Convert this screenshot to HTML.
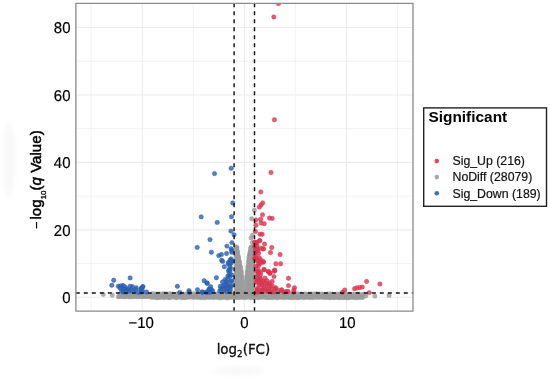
<!DOCTYPE html>
<html><head><meta charset="utf-8"><title>Volcano plot</title>
<style>html,body{margin:0;padding:0;background:#fff;}svg{display:block;}</style>
</head><body>
<svg width="550" height="379" viewBox="0 0 550 379">
<rect width="550" height="379" fill="#fff"/>
<defs><filter id="sm" x="-50%" y="-50%" width="200%" height="200%"><feGaussianBlur stdDeviation="2.5"/></filter></defs>
<ellipse cx="9" cy="160" rx="6" ry="40" fill="#f8f8f8" filter="url(#sm)"/>
<ellipse cx="238" cy="371" rx="26" ry="4" fill="#f7f7f7" filter="url(#sm)"/>
<defs><clipPath id="pc"><rect x="75.8" y="3.2" width="337.4" height="308.0"/></clipPath></defs>
<g stroke="#ebebeb" stroke-width="1"><line x1="91.15" y1="3.2" x2="91.15" y2="311.2" stroke-width="0.7"/><line x1="142.20" y1="3.2" x2="142.20" y2="311.2" stroke-width="1.1"/><line x1="193.25" y1="3.2" x2="193.25" y2="311.2" stroke-width="0.7"/><line x1="244.30" y1="3.2" x2="244.30" y2="311.2" stroke-width="1.1"/><line x1="295.35" y1="3.2" x2="295.35" y2="311.2" stroke-width="0.7"/><line x1="346.40" y1="3.2" x2="346.40" y2="311.2" stroke-width="1.1"/><line x1="397.45" y1="3.2" x2="397.45" y2="311.2" stroke-width="0.7"/><line x1="75.8" y1="297.30" x2="413.2" y2="297.30" stroke-width="1.1"/><line x1="75.8" y1="263.57" x2="413.2" y2="263.57" stroke-width="0.7"/><line x1="75.8" y1="229.85" x2="413.2" y2="229.85" stroke-width="1.1"/><line x1="75.8" y1="196.12" x2="413.2" y2="196.12" stroke-width="0.7"/><line x1="75.8" y1="162.40" x2="413.2" y2="162.40" stroke-width="1.1"/><line x1="75.8" y1="128.68" x2="413.2" y2="128.68" stroke-width="0.7"/><line x1="75.8" y1="94.95" x2="413.2" y2="94.95" stroke-width="1.1"/><line x1="75.8" y1="61.22" x2="413.2" y2="61.22" stroke-width="0.7"/><line x1="75.8" y1="27.50" x2="413.2" y2="27.50" stroke-width="1.1"/></g>
<g clip-path="url(#pc)">
<g fill="#9c9c9c" stroke="#9c9c9c" stroke-width="0.6" stroke-linejoin="round">
<polygon points="117.0,295.0 150.0,294.0 330.0,294.0 360.0,294.6 364.0,296.0 364.0,299.0 117.0,298.2"/>
<polygon points="234.2,246.0 236.0,244.5 238.5,246.0 239.0,250.0 239.8,255.0 241.3,262.5 242.8,270.0 243.6,277.6 244.2,284.0 244.2,295.0 234.2,295.0"/>
<polygon points="249.0,246.0 251.5,244.5 254.5,245.0 254.5,295.0 244.2,295.0 244.2,284.0 245.0,277.6 245.8,270.0 246.6,262.5 247.3,255.0 248.5,250.0"/>
</g>
<g fill="#9c9c9c" fill-opacity="0.8" stroke="#9c9c9c" stroke-opacity="0.8" stroke-width="0.6"><circle cx="254.4" cy="210.3" r="2.2"/>
<circle cx="251.7" cy="218.7" r="2.2"/>
<circle cx="252.4" cy="235.2" r="2.2"/>
<circle cx="251.1" cy="237.9" r="2.2"/>
<circle cx="103.3" cy="294.4" r="2.2"/>
<circle cx="112.2" cy="295.2" r="2.2"/>
<circle cx="365.8" cy="296.1" r="2.2"/>
<circle cx="374.9" cy="296.1" r="2.2"/>
<circle cx="389.1" cy="295.4" r="2.2"/>
<circle cx="236.8" cy="247.5" r="2.2"/>
<circle cx="237.6" cy="252.0" r="2.2"/>
<circle cx="238.5" cy="257.0" r="2.2"/>
<circle cx="239.5" cy="262.0" r="2.2"/>
<circle cx="240.5" cy="267.0" r="2.2"/>
<circle cx="241.3" cy="272.0" r="2.2"/>
<circle cx="241.8" cy="277.0" r="2.2"/>
<circle cx="242.2" cy="281.0" r="2.2"/>
<circle cx="251.5" cy="247.5" r="2.2"/>
<circle cx="252.5" cy="242.5" r="2.2"/>
<circle cx="250.6" cy="252.0" r="2.2"/>
<circle cx="249.6" cy="257.0" r="2.2"/>
<circle cx="248.8" cy="262.0" r="2.2"/>
<circle cx="248.0" cy="267.0" r="2.2"/>
<circle cx="247.4" cy="272.0" r="2.2"/>
<circle cx="246.9" cy="277.0" r="2.2"/>
<circle cx="246.4" cy="281.0" r="2.2"/>
<circle cx="118.5" cy="296.7" r="2.2"/>
<circle cx="119.7" cy="294.8" r="2.2"/>
<circle cx="120.2" cy="296.5" r="2.2"/>
<circle cx="122.2" cy="295.1" r="2.2"/>
<circle cx="122.6" cy="296.5" r="2.2"/>
<circle cx="123.7" cy="294.6" r="2.2"/>
<circle cx="124.7" cy="296.8" r="2.2"/>
<circle cx="126.1" cy="295.3" r="2.2"/>
<circle cx="127.3" cy="296.4" r="2.2"/>
<circle cx="128.8" cy="294.8" r="2.2"/>
<circle cx="129.8" cy="296.9" r="2.2"/>
<circle cx="131.7" cy="295.2" r="2.2"/>
<circle cx="132.6" cy="296.8" r="2.2"/>
<circle cx="134.1" cy="295.0" r="2.2"/>
<circle cx="135.1" cy="296.2" r="2.2"/>
<circle cx="136.3" cy="295.0" r="2.2"/>
<circle cx="137.5" cy="296.7" r="2.2"/>
<circle cx="138.1" cy="294.6" r="2.2"/>
<circle cx="140.1" cy="296.3" r="2.2"/>
<circle cx="140.8" cy="294.9" r="2.2"/>
<circle cx="141.8" cy="296.7" r="2.2"/>
<circle cx="143.8" cy="294.8" r="2.2"/>
<circle cx="144.6" cy="296.4" r="2.2"/>
<circle cx="145.7" cy="294.9" r="2.2"/>
<circle cx="146.4" cy="296.3" r="2.2"/>
<circle cx="147.6" cy="295.3" r="2.2"/>
<circle cx="149.2" cy="296.4" r="2.2"/>
<circle cx="150.9" cy="295.4" r="2.2"/>
<circle cx="151.5" cy="297.2" r="2.2"/>
<circle cx="152.4" cy="293.8" r="2.2"/>
<circle cx="153.8" cy="297.2" r="2.2"/>
<circle cx="154.9" cy="293.9" r="2.2"/>
<circle cx="156.5" cy="297.7" r="2.2"/>
<circle cx="157.9" cy="294.0" r="2.2"/>
<circle cx="158.7" cy="297.5" r="2.2"/>
<circle cx="159.9" cy="294.0" r="2.2"/>
<circle cx="160.7" cy="297.3" r="2.2"/>
<circle cx="163.0" cy="293.8" r="2.2"/>
<circle cx="163.6" cy="297.5" r="2.2"/>
<circle cx="165.2" cy="293.9" r="2.2"/>
<circle cx="165.7" cy="297.3" r="2.2"/>
<circle cx="167.1" cy="294.1" r="2.2"/>
<circle cx="168.9" cy="297.7" r="2.2"/>
<circle cx="170.0" cy="293.7" r="2.2"/>
<circle cx="170.2" cy="297.6" r="2.2"/>
<circle cx="172.5" cy="294.1" r="2.2"/>
<circle cx="173.3" cy="297.1" r="2.2"/>
<circle cx="174.3" cy="294.4" r="2.2"/>
<circle cx="176.0" cy="297.7" r="2.2"/>
<circle cx="177.4" cy="293.9" r="2.2"/>
<circle cx="177.5" cy="297.2" r="2.2"/>
<circle cx="179.2" cy="294.2" r="2.2"/>
<circle cx="180.9" cy="297.6" r="2.2"/>
<circle cx="181.8" cy="294.3" r="2.2"/>
<circle cx="182.7" cy="297.5" r="2.2"/>
<circle cx="183.4" cy="294.3" r="2.2"/>
<circle cx="184.9" cy="297.7" r="2.2"/>
<circle cx="186.6" cy="293.9" r="2.2"/>
<circle cx="187.2" cy="297.3" r="2.2"/>
<circle cx="189.0" cy="294.3" r="2.2"/>
<circle cx="189.5" cy="297.1" r="2.2"/>
<circle cx="191.2" cy="294.2" r="2.2"/>
<circle cx="192.3" cy="297.3" r="2.2"/>
<circle cx="193.7" cy="293.7" r="2.2"/>
<circle cx="194.6" cy="297.4" r="2.2"/>
<circle cx="196.6" cy="294.2" r="2.2"/>
<circle cx="197.7" cy="297.4" r="2.2"/>
<circle cx="198.1" cy="293.9" r="2.2"/>
<circle cx="200.2" cy="297.6" r="2.2"/>
<circle cx="200.6" cy="293.7" r="2.2"/>
<circle cx="202.0" cy="297.6" r="2.2"/>
<circle cx="203.1" cy="293.9" r="2.2"/>
<circle cx="204.6" cy="297.7" r="2.2"/>
<circle cx="205.3" cy="293.7" r="2.2"/>
<circle cx="206.6" cy="297.4" r="2.2"/>
<circle cx="208.2" cy="293.9" r="2.2"/>
<circle cx="209.6" cy="297.6" r="2.2"/>
<circle cx="210.4" cy="293.9" r="2.2"/>
<circle cx="212.2" cy="297.3" r="2.2"/>
<circle cx="213.2" cy="293.9" r="2.2"/>
<circle cx="213.7" cy="297.6" r="2.2"/>
<circle cx="215.0" cy="294.5" r="2.2"/>
<circle cx="216.4" cy="297.2" r="2.2"/>
<circle cx="217.3" cy="294.0" r="2.2"/>
<circle cx="219.0" cy="297.8" r="2.2"/>
<circle cx="219.6" cy="294.0" r="2.2"/>
<circle cx="220.9" cy="297.8" r="2.2"/>
<circle cx="222.0" cy="293.7" r="2.2"/>
<circle cx="223.1" cy="297.4" r="2.2"/>
<circle cx="225.3" cy="294.4" r="2.2"/>
<circle cx="226.3" cy="297.8" r="2.2"/>
<circle cx="227.7" cy="294.0" r="2.2"/>
<circle cx="228.0" cy="297.8" r="2.2"/>
<circle cx="229.9" cy="293.7" r="2.2"/>
<circle cx="231.0" cy="297.4" r="2.2"/>
<circle cx="231.8" cy="294.0" r="2.2"/>
<circle cx="232.8" cy="297.1" r="2.2"/>
<circle cx="234.1" cy="294.0" r="2.2"/>
<circle cx="236.1" cy="297.2" r="2.2"/>
<circle cx="237.4" cy="293.9" r="2.2"/>
<circle cx="237.8" cy="297.7" r="2.2"/>
<circle cx="239.6" cy="294.0" r="2.2"/>
<circle cx="239.9" cy="297.4" r="2.2"/>
<circle cx="241.4" cy="294.4" r="2.2"/>
<circle cx="242.4" cy="297.4" r="2.2"/>
<circle cx="244.5" cy="293.7" r="2.2"/>
<circle cx="245.1" cy="297.7" r="2.2"/>
<circle cx="246.7" cy="293.7" r="2.2"/>
<circle cx="247.0" cy="297.1" r="2.2"/>
<circle cx="249.3" cy="293.9" r="2.2"/>
<circle cx="250.3" cy="297.7" r="2.2"/>
<circle cx="251.0" cy="293.9" r="2.2"/>
<circle cx="252.9" cy="297.5" r="2.2"/>
<circle cx="253.3" cy="294.3" r="2.2"/>
<circle cx="254.6" cy="297.3" r="2.2"/>
<circle cx="255.4" cy="294.3" r="2.2"/>
<circle cx="257.7" cy="297.5" r="2.2"/>
<circle cx="258.9" cy="293.7" r="2.2"/>
<circle cx="259.3" cy="297.4" r="2.2"/>
<circle cx="261.3" cy="294.5" r="2.2"/>
<circle cx="261.9" cy="297.3" r="2.2"/>
<circle cx="263.1" cy="294.1" r="2.2"/>
<circle cx="264.9" cy="297.2" r="2.2"/>
<circle cx="266.0" cy="294.3" r="2.2"/>
<circle cx="267.2" cy="297.6" r="2.2"/>
<circle cx="268.1" cy="294.0" r="2.2"/>
<circle cx="269.0" cy="297.4" r="2.2"/>
<circle cx="270.7" cy="293.8" r="2.2"/>
<circle cx="271.2" cy="297.6" r="2.2"/>
<circle cx="272.5" cy="293.8" r="2.2"/>
<circle cx="273.4" cy="297.5" r="2.2"/>
<circle cx="275.0" cy="294.5" r="2.2"/>
<circle cx="276.9" cy="297.8" r="2.2"/>
<circle cx="277.3" cy="293.8" r="2.2"/>
<circle cx="278.3" cy="297.4" r="2.2"/>
<circle cx="280.3" cy="294.1" r="2.2"/>
<circle cx="280.9" cy="297.4" r="2.2"/>
<circle cx="282.5" cy="294.2" r="2.2"/>
<circle cx="283.9" cy="297.7" r="2.2"/>
<circle cx="285.0" cy="293.8" r="2.2"/>
<circle cx="286.4" cy="297.3" r="2.2"/>
<circle cx="287.3" cy="294.0" r="2.2"/>
<circle cx="288.7" cy="297.2" r="2.2"/>
<circle cx="289.3" cy="293.9" r="2.2"/>
<circle cx="290.4" cy="297.7" r="2.2"/>
<circle cx="292.1" cy="294.0" r="2.2"/>
<circle cx="293.1" cy="297.8" r="2.2"/>
<circle cx="294.4" cy="293.9" r="2.2"/>
<circle cx="296.0" cy="297.6" r="2.2"/>
<circle cx="297.4" cy="293.8" r="2.2"/>
<circle cx="298.0" cy="297.7" r="2.2"/>
<circle cx="299.6" cy="294.4" r="2.2"/>
<circle cx="299.8" cy="297.3" r="2.2"/>
<circle cx="301.1" cy="293.9" r="2.2"/>
<circle cx="303.4" cy="297.5" r="2.2"/>
<circle cx="304.5" cy="294.0" r="2.2"/>
<circle cx="305.6" cy="297.4" r="2.2"/>
<circle cx="306.1" cy="294.3" r="2.2"/>
<circle cx="308.1" cy="297.2" r="2.2"/>
<circle cx="308.9" cy="294.2" r="2.2"/>
<circle cx="309.7" cy="297.4" r="2.2"/>
<circle cx="310.8" cy="293.9" r="2.2"/>
<circle cx="312.1" cy="297.5" r="2.2"/>
<circle cx="313.8" cy="293.9" r="2.2"/>
<circle cx="314.2" cy="297.3" r="2.2"/>
<circle cx="316.2" cy="293.8" r="2.2"/>
<circle cx="317.0" cy="297.2" r="2.2"/>
<circle cx="318.8" cy="294.1" r="2.2"/>
<circle cx="319.1" cy="297.2" r="2.2"/>
<circle cx="320.7" cy="294.1" r="2.2"/>
<circle cx="322.2" cy="297.2" r="2.2"/>
<circle cx="322.8" cy="294.3" r="2.2"/>
<circle cx="324.3" cy="297.3" r="2.2"/>
<circle cx="325.4" cy="294.5" r="2.2"/>
<circle cx="326.6" cy="297.5" r="2.2"/>
<circle cx="327.8" cy="294.0" r="2.2"/>
<circle cx="329.6" cy="297.8" r="2.2"/>
<circle cx="330.2" cy="293.9" r="2.2"/>
<circle cx="331.9" cy="297.2" r="2.2"/>
<circle cx="332.2" cy="294.4" r="2.2"/>
<circle cx="333.9" cy="297.7" r="2.2"/>
<circle cx="335.1" cy="294.4" r="2.2"/>
<circle cx="336.4" cy="297.2" r="2.2"/>
<circle cx="337.0" cy="294.1" r="2.2"/>
<circle cx="339.0" cy="297.7" r="2.2"/>
<circle cx="339.5" cy="294.2" r="2.2"/>
<circle cx="341.0" cy="297.5" r="2.2"/>
<circle cx="342.0" cy="293.9" r="2.2"/>
<circle cx="343.6" cy="297.7" r="2.2"/>
<circle cx="344.3" cy="294.1" r="2.2"/>
<circle cx="346.4" cy="297.8" r="2.2"/>
<circle cx="346.8" cy="294.2" r="2.2"/>
<circle cx="348.9" cy="297.8" r="2.2"/>
<circle cx="349.6" cy="294.1" r="2.2"/>
<circle cx="351.3" cy="297.4" r="2.2"/>
<circle cx="352.5" cy="294.6" r="2.2"/>
<circle cx="353.6" cy="297.2" r="2.2"/>
<circle cx="354.7" cy="294.3" r="2.2"/>
<circle cx="355.5" cy="297.7" r="2.2"/>
<circle cx="357.2" cy="294.2" r="2.2"/>
<circle cx="357.7" cy="297.4" r="2.2"/>
<circle cx="359.2" cy="294.4" r="2.2"/>
<circle cx="359.9" cy="297.3" r="2.2"/>
<circle cx="361.9" cy="294.8" r="2.2"/>
<circle cx="362.2" cy="297.5" r="2.2"/>
<circle cx="364.3" cy="294.1" r="2.2"/></g>
<g fill="#2a5fb2" fill-opacity="0.8" stroke="#2a5fb2" stroke-opacity="0.8" stroke-width="0.6"><circle cx="231.8" cy="252.2" r="2.2"/>
<circle cx="231.1" cy="258.9" r="2.2"/>
<circle cx="231.6" cy="261.0" r="2.2"/>
<circle cx="228.2" cy="263.9" r="2.2"/>
<circle cx="230.0" cy="263.9" r="2.2"/>
<circle cx="230.0" cy="266.8" r="2.2"/>
<circle cx="229.0" cy="269.7" r="2.2"/>
<circle cx="230.5" cy="268.7" r="2.2"/>
<circle cx="228.5" cy="271.1" r="2.2"/>
<circle cx="229.9" cy="271.4" r="2.2"/>
<circle cx="229.2" cy="274.9" r="2.2"/>
<circle cx="231.8" cy="275.0" r="2.2"/>
<circle cx="227.9" cy="276.0" r="2.2"/>
<circle cx="229.9" cy="276.2" r="2.2"/>
<circle cx="225.1" cy="279.4" r="2.2"/>
<circle cx="228.0" cy="278.9" r="2.2"/>
<circle cx="231.8" cy="280.8" r="2.2"/>
<circle cx="222.6" cy="281.9" r="2.2"/>
<circle cx="226.3" cy="281.7" r="2.2"/>
<circle cx="227.3" cy="283.4" r="2.2"/>
<circle cx="231.1" cy="281.6" r="2.2"/>
<circle cx="220.3" cy="286.2" r="2.2"/>
<circle cx="223.7" cy="285.5" r="2.2"/>
<circle cx="225.1" cy="284.8" r="2.2"/>
<circle cx="227.6" cy="285.7" r="2.2"/>
<circle cx="231.1" cy="285.7" r="2.2"/>
<circle cx="220.9" cy="288.9" r="2.2"/>
<circle cx="223.7" cy="288.5" r="2.2"/>
<circle cx="226.3" cy="288.3" r="2.2"/>
<circle cx="227.7" cy="287.8" r="2.2"/>
<circle cx="230.7" cy="286.8" r="2.2"/>
<circle cx="219.7" cy="290.9" r="2.2"/>
<circle cx="223.9" cy="290.4" r="2.2"/>
<circle cx="226.6" cy="291.6" r="2.2"/>
<circle cx="229.3" cy="290.2" r="2.2"/>
<circle cx="230.4" cy="289.9" r="2.2"/>
<circle cx="214.5" cy="173.6" r="2.2"/>
<circle cx="231.2" cy="168.3" r="2.2"/>
<circle cx="232.7" cy="203.0" r="2.2"/>
<circle cx="201.2" cy="216.9" r="2.2"/>
<circle cx="231.5" cy="216.7" r="2.2"/>
<circle cx="217.2" cy="222.4" r="2.2"/>
<circle cx="230.9" cy="231.1" r="2.2"/>
<circle cx="234.0" cy="234.8" r="2.2"/>
<circle cx="210.0" cy="239.6" r="2.2"/>
<circle cx="231.9" cy="242.6" r="2.2"/>
<circle cx="226.9" cy="246.1" r="2.2"/>
<circle cx="231.1" cy="248.7" r="2.2"/>
<circle cx="231.7" cy="250.3" r="2.2"/>
<circle cx="211.4" cy="252.2" r="2.2"/>
<circle cx="226.6" cy="253.5" r="2.2"/>
<circle cx="218.8" cy="255.6" r="2.2"/>
<circle cx="221.4" cy="254.5" r="2.2"/>
<circle cx="221.6" cy="260.3" r="2.2"/>
<circle cx="222.7" cy="261.4" r="2.2"/>
<circle cx="230.1" cy="260.3" r="2.2"/>
<circle cx="228.5" cy="262.4" r="2.2"/>
<circle cx="231.1" cy="263.0" r="2.2"/>
<circle cx="224.3" cy="266.7" r="2.2"/>
<circle cx="197.2" cy="247.4" r="2.2"/>
<circle cx="216.4" cy="277.7" r="2.2"/>
<circle cx="204.2" cy="280.8" r="2.2"/>
<circle cx="206.9" cy="283.0" r="2.2"/>
<circle cx="210.6" cy="286.6" r="2.2"/>
<circle cx="209.0" cy="289.3" r="2.2"/>
<circle cx="202.1" cy="291.9" r="2.2"/>
<circle cx="207.3" cy="283.3" r="2.2"/>
<circle cx="208.9" cy="289.8" r="2.2"/>
<circle cx="207.3" cy="292.3" r="2.2"/>
<circle cx="211.4" cy="289.5" r="2.2"/>
<circle cx="212.7" cy="290.9" r="2.2"/>
<circle cx="210.0" cy="292.2" r="2.2"/>
<circle cx="205.9" cy="292.2" r="2.2"/>
<circle cx="177.4" cy="286.3" r="2.2"/>
<circle cx="179.8" cy="292.5" r="2.2"/>
<circle cx="189.0" cy="290.6" r="2.2"/>
<circle cx="189.3" cy="292.3" r="2.2"/>
<circle cx="197.5" cy="289.8" r="2.2"/>
<circle cx="202.4" cy="292.3" r="2.2"/>
<circle cx="142.8" cy="286.7" r="2.2"/>
<circle cx="141.0" cy="288.5" r="2.2"/>
<circle cx="113.7" cy="280.2" r="2.2"/>
<circle cx="111.8" cy="285.2" r="2.2"/>
<circle cx="130.1" cy="277.9" r="2.2"/>
<circle cx="118.3" cy="286.3" r="2.2"/>
<circle cx="120.6" cy="285.9" r="2.2"/>
<circle cx="122.9" cy="285.5" r="2.2"/>
<circle cx="124.8" cy="286.7" r="2.2"/>
<circle cx="120.2" cy="288.2" r="2.2"/>
<circle cx="123.3" cy="289.0" r="2.2"/>
<circle cx="126.3" cy="288.6" r="2.2"/>
<circle cx="127.8" cy="289.7" r="2.2"/>
<circle cx="130.1" cy="286.3" r="2.2"/>
<circle cx="132.4" cy="286.7" r="2.2"/>
<circle cx="130.9" cy="289.4" r="2.2"/>
<circle cx="129.4" cy="291.3" r="2.2"/>
<circle cx="123.3" cy="292.0" r="2.2"/>
<circle cx="126.3" cy="292.0" r="2.2"/>
<circle cx="136.2" cy="287.8" r="2.2"/>
<circle cx="135.5" cy="289.7" r="2.2"/>
<circle cx="138.5" cy="292.4" r="2.2"/>
<circle cx="140.8" cy="289.4" r="2.2"/>
<circle cx="142.7" cy="286.7" r="2.2"/>
<circle cx="142.3" cy="290.5" r="2.2"/>
<circle cx="141.6" cy="292.0" r="2.2"/>
<circle cx="146.5" cy="292.0" r="2.2"/>
<circle cx="133.5" cy="291.5" r="2.2"/>
<circle cx="121.5" cy="291.0" r="2.2"/></g>
<g fill="#da3650" fill-opacity="0.8" stroke="#da3650" stroke-opacity="0.8" stroke-width="0.6"><circle cx="257.0" cy="242.5" r="2.2"/>
<circle cx="257.0" cy="245.7" r="2.2"/>
<circle cx="256.2" cy="249.0" r="2.2"/>
<circle cx="256.1" cy="251.4" r="2.2"/>
<circle cx="257.8" cy="250.9" r="2.2"/>
<circle cx="256.5" cy="257.8" r="2.2"/>
<circle cx="258.6" cy="263.9" r="2.2"/>
<circle cx="256.0" cy="266.3" r="2.2"/>
<circle cx="258.4" cy="265.9" r="2.2"/>
<circle cx="256.4" cy="270.8" r="2.2"/>
<circle cx="258.4" cy="270.4" r="2.2"/>
<circle cx="258.2" cy="272.3" r="2.2"/>
<circle cx="260.6" cy="272.3" r="2.2"/>
<circle cx="257.6" cy="274.6" r="2.2"/>
<circle cx="260.5" cy="274.9" r="2.2"/>
<circle cx="257.1" cy="277.0" r="2.2"/>
<circle cx="259.2" cy="278.1" r="2.2"/>
<circle cx="260.4" cy="278.5" r="2.2"/>
<circle cx="265.0" cy="278.1" r="2.2"/>
<circle cx="256.4" cy="280.9" r="2.2"/>
<circle cx="258.1" cy="279.5" r="2.2"/>
<circle cx="260.6" cy="280.2" r="2.2"/>
<circle cx="263.2" cy="281.2" r="2.2"/>
<circle cx="266.9" cy="280.8" r="2.2"/>
<circle cx="256.4" cy="282.2" r="2.2"/>
<circle cx="259.2" cy="282.7" r="2.2"/>
<circle cx="260.5" cy="282.7" r="2.2"/>
<circle cx="264.6" cy="282.6" r="2.2"/>
<circle cx="267.3" cy="284.2" r="2.2"/>
<circle cx="269.5" cy="282.9" r="2.2"/>
<circle cx="259.2" cy="285.5" r="2.2"/>
<circle cx="261.5" cy="284.8" r="2.2"/>
<circle cx="263.1" cy="285.4" r="2.2"/>
<circle cx="267.2" cy="286.3" r="2.2"/>
<circle cx="269.9" cy="285.4" r="2.2"/>
<circle cx="272.2" cy="285.8" r="2.2"/>
<circle cx="257.1" cy="289.6" r="2.2"/>
<circle cx="257.6" cy="288.5" r="2.2"/>
<circle cx="262.1" cy="289.6" r="2.2"/>
<circle cx="264.0" cy="288.1" r="2.2"/>
<circle cx="266.2" cy="289.6" r="2.2"/>
<circle cx="268.9" cy="288.8" r="2.2"/>
<circle cx="271.4" cy="288.7" r="2.2"/>
<circle cx="275.9" cy="287.8" r="2.2"/>
<circle cx="256.9" cy="291.7" r="2.2"/>
<circle cx="258.1" cy="292.2" r="2.2"/>
<circle cx="261.4" cy="290.3" r="2.2"/>
<circle cx="263.0" cy="291.3" r="2.2"/>
<circle cx="266.7" cy="290.9" r="2.2"/>
<circle cx="268.7" cy="291.0" r="2.2"/>
<circle cx="271.8" cy="292.0" r="2.2"/>
<circle cx="273.8" cy="291.9" r="2.2"/>
<circle cx="278.3" cy="290.5" r="2.2"/>
<circle cx="278.5" cy="3.6" r="2.2"/>
<circle cx="273.8" cy="17.0" r="2.2"/>
<circle cx="274.4" cy="119.8" r="2.2"/>
<circle cx="271.0" cy="172.5" r="2.2"/>
<circle cx="260.8" cy="191.9" r="2.2"/>
<circle cx="262.7" cy="202.9" r="2.2"/>
<circle cx="261.1" cy="205.0" r="2.2"/>
<circle cx="259.3" cy="207.1" r="2.2"/>
<circle cx="262.5" cy="214.8" r="2.2"/>
<circle cx="269.5" cy="218.0" r="2.2"/>
<circle cx="272.2" cy="218.4" r="2.2"/>
<circle cx="260.6" cy="219.3" r="2.2"/>
<circle cx="255.8" cy="220.0" r="2.2"/>
<circle cx="261.1" cy="223.0" r="2.2"/>
<circle cx="264.2" cy="223.7" r="2.2"/>
<circle cx="256.0" cy="225.2" r="2.2"/>
<circle cx="255.4" cy="231.4" r="2.2"/>
<circle cx="260.0" cy="234.2" r="2.2"/>
<circle cx="262.1" cy="234.2" r="2.2"/>
<circle cx="259.5" cy="240.6" r="2.2"/>
<circle cx="255.8" cy="242.7" r="2.2"/>
<circle cx="264.6" cy="244.0" r="2.2"/>
<circle cx="271.7" cy="247.5" r="2.2"/>
<circle cx="270.5" cy="252.5" r="2.2"/>
<circle cx="280.1" cy="254.5" r="2.2"/>
<circle cx="263.1" cy="248.8" r="2.2"/>
<circle cx="263.5" cy="262.2" r="2.2"/>
<circle cx="275.9" cy="263.8" r="2.2"/>
<circle cx="280.6" cy="263.8" r="2.2"/>
<circle cx="255.0" cy="259.0" r="2.2"/>
<circle cx="258.0" cy="260.5" r="2.2"/>
<circle cx="262.0" cy="262.0" r="2.2"/>
<circle cx="260.0" cy="263.5" r="2.2"/>
<circle cx="264.0" cy="269.5" r="2.2"/>
<circle cx="268.5" cy="271.5" r="2.2"/>
<circle cx="270.0" cy="273.0" r="2.2"/>
<circle cx="274.6" cy="271.0" r="2.2"/>
<circle cx="264.2" cy="269.7" r="2.2"/>
<circle cx="274.8" cy="270.1" r="2.2"/>
<circle cx="268.5" cy="271.9" r="2.2"/>
<circle cx="270.0" cy="273.4" r="2.2"/>
<circle cx="274.3" cy="270.8" r="2.2"/>
<circle cx="274.0" cy="276.6" r="2.2"/>
<circle cx="272.2" cy="281.4" r="2.2"/>
<circle cx="288.5" cy="278.2" r="2.2"/>
<circle cx="288.5" cy="285.6" r="2.2"/>
<circle cx="281.7" cy="289.8" r="2.2"/>
<circle cx="286.4" cy="291.4" r="2.2"/>
<circle cx="275.3" cy="288.7" r="2.2"/>
<circle cx="294.5" cy="287.8" r="2.2"/>
<circle cx="293.8" cy="289.9" r="2.2"/>
<circle cx="281.4" cy="290.7" r="2.2"/>
<circle cx="288.0" cy="291.4" r="2.2"/>
<circle cx="293.8" cy="292.1" r="2.2"/>
<circle cx="284.3" cy="292.1" r="2.2"/>
<circle cx="366.6" cy="281.4" r="2.2"/>
<circle cx="379.9" cy="284.0" r="2.2"/>
<circle cx="354.5" cy="288.8" r="2.2"/>
<circle cx="357.1" cy="287.8" r="2.2"/>
<circle cx="359.7" cy="287.5" r="2.2"/>
<circle cx="362.3" cy="287.1" r="2.2"/>
<circle cx="344.7" cy="290.0" r="2.2"/>
<circle cx="342.5" cy="292.3" r="2.2"/>
<circle cx="369.2" cy="292.6" r="2.2"/>
<circle cx="259.9" cy="240.6" r="2.2"/>
<circle cx="254.6" cy="242.3" r="2.2"/>
<circle cx="254.6" cy="246.6" r="2.2"/>
<circle cx="257.3" cy="248.6" r="2.2"/>
<circle cx="260.6" cy="248.2" r="2.2"/>
<circle cx="263.5" cy="248.9" r="2.2"/>
<circle cx="255.3" cy="251.2" r="2.2"/>
<circle cx="258.6" cy="253.2" r="2.2"/>
<circle cx="255.3" cy="255.2" r="2.2"/>
<circle cx="254.6" cy="258.4" r="2.2"/>
<circle cx="259.2" cy="257.8" r="2.2"/>
<circle cx="257.3" cy="260.4" r="2.2"/>
<circle cx="263.2" cy="261.4" r="2.2"/>
<circle cx="260.6" cy="259.8" r="2.2"/></g>
<g stroke="#111" stroke-width="1.45" stroke-dasharray="4 4" fill="none">
<line x1="234.09" y1="311.2" x2="234.09" y2="3.2"/>
<line x1="254.51" y1="311.2" x2="254.51" y2="3.2"/>
<line x1="75.8" y1="292.91" x2="413.2" y2="292.91"/>
</g>
</g>
<rect x="75.9" y="3.3" width="337.1" height="307.9" fill="none" stroke="#8a8a8a" stroke-width="1.3" stroke-linejoin="round"/>
<g font-family="Liberation Sans, Arial, sans-serif" font-size="15.6" fill="#000" stroke="#000" stroke-width="0.2" style="text-rendering:geometricPrecision">
<text transform="translate(70.5,33.1) scale(0.96,1)" text-anchor="end">80</text>
<text transform="translate(70.5,100.6) scale(0.96,1)" text-anchor="end">60</text>
<text transform="translate(70.5,168.0) scale(0.96,1)" text-anchor="end">40</text>
<text transform="translate(70.5,235.5) scale(0.96,1)" text-anchor="end">20</text>
<text transform="translate(70.5,302.9) scale(0.96,1)" text-anchor="end">0</text>
<text transform="translate(141.2,327.5) scale(0.96,1)" text-anchor="middle">&#8722;10</text>
<text transform="translate(244.3,327.5) scale(0.96,1)" text-anchor="middle">0</text>
<text transform="translate(347.2,327.5) scale(0.96,1)" text-anchor="middle">10</text>
</g>
<text x="243.4" y="353.5" text-anchor="middle" font-family="DejaVu Sans, sans-serif" font-size="13.4" fill="#111" stroke="#111" stroke-width="0.35">log<tspan font-size="8.8" dy="3.6">2</tspan><tspan dy="-3.6">(FC)</tspan></text>
<text transform="translate(41.2,179.6) rotate(-90)" text-anchor="middle" font-family="Liberation Sans, Arial, sans-serif" font-size="15.1" fill="#000" stroke="#000" stroke-width="0.5"><tspan font-size="13" stroke-width="0.3">&#8722;</tspan><tspan dx="1.8">log</tspan><tspan font-size="8" stroke-width="0.3" dy="4.5">10</tspan><tspan dy="-4.5">(</tspan><tspan font-style="italic">q</tspan> Value)</text>
<rect x="423.7" y="107.9" width="122.8" height="98.4" fill="#fff" stroke="#222" stroke-width="1.4"/>
<text x="428.5" y="122.2" font-family="Liberation Sans, Arial, sans-serif" font-size="15.4" font-weight="bold" fill="#000">Significant</text>
<circle cx="436.8" cy="161.1" r="2.3" fill="#da3650" fill-opacity="0.9"/>
<circle cx="436.8" cy="177.1" r="2.3" fill="#9c9c9c" fill-opacity="0.9"/>
<circle cx="436.8" cy="193.3" r="2.3" fill="#2a5fb2" fill-opacity="0.9"/>
<g font-family="Liberation Sans, Arial, sans-serif" font-size="12.3" fill="#111" stroke="#111" stroke-width="0.2">
<text x="452.5" y="165.4">Sig_Up (216)</text>
<text x="452.5" y="181.4">NoDiff (28079)</text>
<text x="452.5" y="197.5">Sig_Down (189)</text>
</g>
</svg>
</body></html>
